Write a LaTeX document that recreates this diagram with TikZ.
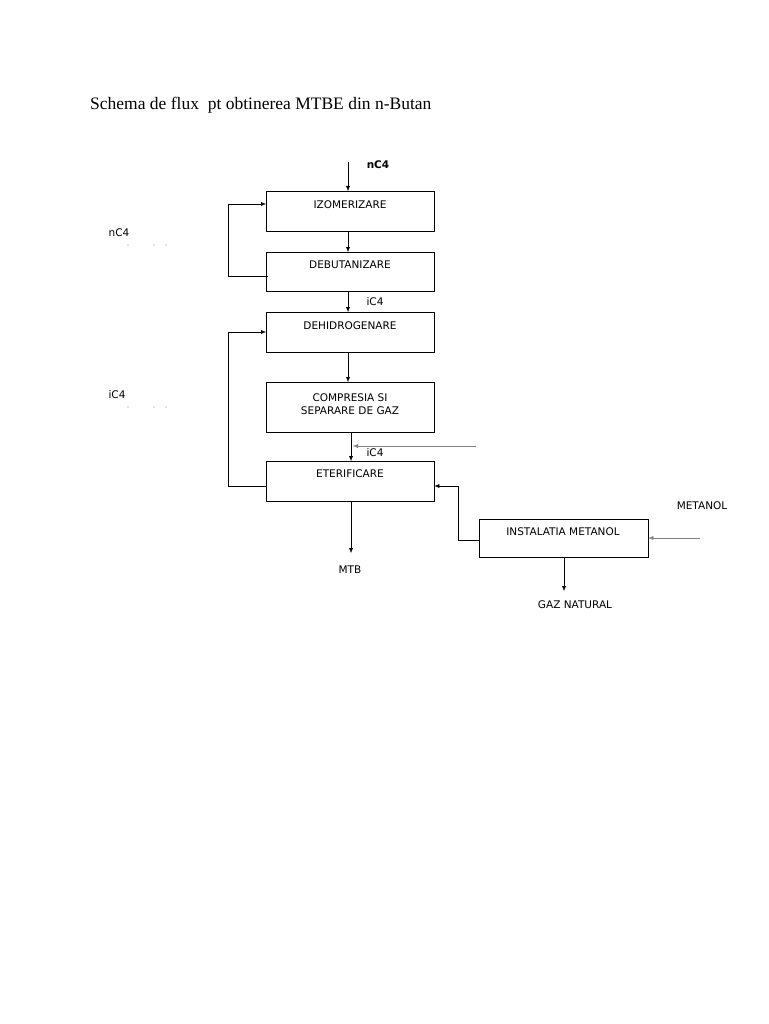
\documentclass[tikz,border=0pt]{standalone}
\usepackage{fontspec}
\setmainfont{Liberation Serif}
\newfontfamily\dvsans{DejaVu Sans}
\usetikzlibrary{arrows.meta}
\begin{document}
\begin{tikzpicture}[x=1pt,y=-1pt,
  box/.style={draw,thin,minimum width=168pt,anchor=north west,inner sep=0pt},
  lab/.style={font=\dvsans\fontsize{10.5}{13}\selectfont,inner sep=0pt},
  ar/.style={-{Latex[length=5pt,width=4pt]},thin},
  ln/.style={thin}]
\useasboundingbox (0,0) rectangle (768,1024);
\node[anchor=west,font=\fontsize{17.5}{20}\selectfont,inner sep=0pt] (title) at (90,105) {Schema de flux\ \ pt obtinerea MTBE din n-Butan};
\node[box,minimum height=40pt] (iz) at (266,191) {};
\node[lab] at (350,205) {IZOMERIZARE};
\node[box,minimum height=39pt] (deb) at (266,252) {};
\node[lab] at (350,265) {DEBUTANIZARE};
\node[box,minimum height=40pt] (deh) at (266,312) {};
\node[lab] at (350,326) {DEHIDROGENARE};
\node[box,minimum height=50pt] (comp) at (266,382) {};
\node[lab,align=center] at (350,404) {COMPRESIA SI\\SEPARARE DE GAZ};
\node[box,minimum height=40pt] (et) at (266,461) {};
\node[lab] at (350,474) {ETERIFICARE};
\node[box,minimum width=169pt,minimum height=38pt] (inst) at (479,519) {};
\node[lab] at (563,532) {INSTALATIA METANOL};
% labels
\node[lab,font=\dvsans\bfseries\fontsize{10.5}{13}\selectfont] (nc4) at (378,165) {nC4};
\node[lab] (ic4a) at (375,302) {iC4};
\node[lab] (ic4b) at (375,453) {iC4};
\node[lab] (mtb) at (350,570) {MTB};
\node[lab] (gaz) at (575,605) {GAZ NATURAL};
\node[lab] (met) at (702,506) {METANOL};
\node[lab] (nc4l) at (119,233) {nC4};
\node[lab] (ic4l) at (117,395) {iC4};
\foreach \y in {245,407}{\foreach \x in {128,154,166}{\fill[gray] (\x,\y) circle (0.7pt);}}
% coordinates
\coordinate (t0) at (348,162);
\coordinate (g0) at (476,446);
\coordinate (m0) at (700,538);
\coordinate (mt) at (351,553);
\coordinate (gz) at (564,591);
% connectors
\draw[ar] (t0) -- (t0 |- iz.north);
\draw[ar] (348,231) -- (348,252);
\draw[ar] (348,291) -- (348,312);
\draw[ar] (348,352) -- (348,382);
\draw[ar] (351,432) -- (351,461);
\draw[ar,gray] (g0) -- (353,446);
\draw[ar] (351,501) -- (mt);
\draw[ar] (268,276) -- (228,276) -- (228,204) -- (iz.west |- 0,204);
\draw[ar] (et.west |- 0,486) -- (228,486) -- (228,332) -- (deh.west |- 0,332);
\draw[ar] (inst.west |- 0,540) -- (458,540) -- (458,486) -- (et.east |- 0,486);
\draw[ar,gray] (m0) -- (inst.east |- 0,538);
\draw[ar] (564,557) -- (gz);
\end{tikzpicture}
\end{document}
